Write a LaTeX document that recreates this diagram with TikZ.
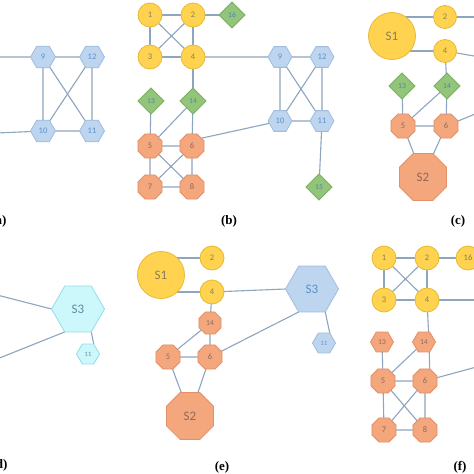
\documentclass[tikz,border=0pt]{standalone}
\usepackage{fontspec}
\setmainfont{Liberation Serif}
\newfontfamily\nodefont{Carlito}
\usetikzlibrary{shapes.geometric,backgrounds}
\definecolor{yfill}{HTML}{FFD34F}
\definecolor{yline}{HTML}{E8B935}
\definecolor{ytext}{HTML}{8C7C5A}
\definecolor{ofill}{HTML}{F4A67C}
\definecolor{oline}{HTML}{E39068}
\definecolor{otext}{HTML}{8E6A5A}
\definecolor{gfill}{HTML}{92C47A}
\definecolor{gline}{HTML}{7CB163}
\definecolor{gtext}{HTML}{4F86A8}
\definecolor{bfill}{HTML}{BDD5EF}
\definecolor{bline}{HTML}{9FBCDD}
\definecolor{btext}{HTML}{5E8FC8}
\definecolor{cfill}{HTML}{CCF7FB}
\definecolor{cline}{HTML}{94DDE8}
\definecolor{ctext}{HTML}{5B8FA5}
\definecolor{ecol}{HTML}{8DA5BF}
\begin{document}
\begin{tikzpicture}[x=1pt,y=-1pt,
  every node/.style={inner sep=0pt,outer sep=0pt},
  numfont/.style={font=\nodefont\fontsize{8.5}{9}\selectfont},
  smallfont/.style={font=\nodefont\fontsize{7.5}{8}\selectfont},
  bigfont/.style={font=\nodefont\fontsize{13}{14}\selectfont},
  ycirc/.style={circle,draw=yline,fill=yfill,line width=0.8pt,minimum size=24pt,text=ytext,numfont},
  ooct/.style={regular polygon,regular polygon sides=8,draw=oline,fill=ofill,line width=0.8pt,minimum size=26pt,text=otext,numfont},
  ohex/.style={regular polygon,regular polygon sides=6,draw=oline,fill=ofill,line width=0.8pt,minimum size=23pt,text=otext,smallfont},
  gdia/.style={diamond,aspect=1,draw=gline,fill=gfill,line width=0.8pt,minimum size=26pt,text=gtext,smallfont},
  bhex/.style={regular polygon,regular polygon sides=6,draw=bline,fill=bfill,line width=0.8pt,minimum size=25pt,text=btext,numfont},
  chex/.style={regular polygon,regular polygon sides=6,draw=cline,fill=cfill,line width=0.8pt,minimum size=23pt,text=ctext,numfont},
  conn/.style={draw=ecol,line width=1.1pt},
  panellabel/.style={font=\bfseries\fontsize{13}{14}\selectfont,text=black}
]
\useasboundingbox (0,0) rectangle (474,474);

% ---------- panel (a) ----------
\node[bhex] (a9) at (43,57) {9};
\node[bhex] (a12) at (92,57) {12};
\node[bhex] (a10) at (43,131) {10};
\node[bhex] (a11) at (92,131) {11};
\coordinate (aL1) at (-3,57);
\coordinate (aL2) at (-3,133);
\node[panellabel,anchor=east] (la) at (6.5,221) {(a)};

% ---------- panel (b) ----------
\node[ycirc] (b1) at (150,15) {1};
\node[ycirc] (b2) at (193,15) {2};
\node[ycirc] (b3) at (150,57) {3};
\node[ycirc] (b4) at (193,57) {4};
\node[gdia] (b16) at (232,15) {16};
\node[gdia] (b13) at (151,101) {13};
\node[gdia] (b14) at (193,101) {14};
\node[ooct] (b5) at (150,146) {5};
\node[ooct] (b6) at (192,146) {6};
\node[ooct] (b7) at (150,187) {7};
\node[ooct] (b8) at (192,187) {8};
\node[bhex,minimum size=24pt] (b9) at (280,57) {9};
\node[bhex,minimum size=24pt] (b12) at (322,57) {12};
\node[bhex,minimum size=24pt] (b10) at (280,121) {10};
\node[bhex,minimum size=24pt] (b11) at (322,121) {11};
\node[gdia] (b15) at (319,187) {15};
\node[panellabel] (lb) at (229,221) {(b)};

% ---------- panel (c) ----------
\node[ycirc,minimum size=47pt,bigfont] (cS1) at (392,36) {S1};
\node[ycirc,minimum size=23pt] (c2) at (445,17) {2};
\node[ycirc,minimum size=23pt] (c4) at (445,51) {4};
\node[gdia] (c13) at (402,86) {13};
\node[gdia] (c14) at (447,86) {14};
\node[ooct] (c5) at (403,126) {5};
\node[ooct] (c6) at (446,126) {6};
\node[ooct,minimum size=51pt,bigfont] (cS2) at (423,177) {S2};
\coordinate (cR1) at (480,17);
\coordinate (cR2) at (480,57);
\coordinate (cR3) at (480,112);
\node[panellabel] (lc) at (458,221) {(c)};

% ---------- panel (d) ----------
\node[chex,minimum size=53pt,bigfont] (dS3) at (78,309) {S3};
\node[chex,minimum size=23pt,font=\nodefont\fontsize{6.5}{7}\selectfont] (d11) at (88,354) {11};
\coordinate (dL1) at (-3,295);
\coordinate (dL2) at (-3,359);
\node[panellabel,anchor=east] (ld) at (7.5,465) {(d)};

% ---------- panel (e) ----------
\node[ycirc,minimum size=47pt,bigfont] (eS1) at (161,275) {S1};
\node[ycirc] (e2) at (212,258) {2};
\node[ycirc] (e4) at (212,292) {4};
\node[ooct,minimum size=24pt,smallfont] (e14) at (210,323) {14};
\node[ooct] (e5) at (168,357) {5};
\node[ooct] (e6) at (210,357) {6};
\node[ooct,minimum size=51pt,bigfont] (eS2) at (190,416) {S2};
\node[bhex,minimum size=53pt,bigfont] (eS3) at (312,289) {S3};
\node[bhex,minimum size=23pt,font=\nodefont\fontsize{6.5}{7}\selectfont] (e11) at (324,343) {11};
\node[panellabel] (le) at (222,467) {(e)};

% ---------- panel (f) ----------
\node[ycirc] (f1) at (384,258) {1};
\node[ycirc] (f2) at (427,258) {2};
\node[ycirc] (f16) at (468,258) {16};
\node[ycirc] (f3) at (384,300) {3};
\node[ycirc] (f4) at (427,300) {4};
\node[ohex] (f13) at (382,342) {13};
\node[ohex] (f14) at (424,342) {14};
\node[ooct] (f5) at (383,381) {5};
\node[ooct] (f6) at (425,381) {6};
\node[ooct] (f7) at (384,430) {7};
\node[ooct] (f8) at (425,430) {8};
\coordinate (fR1) at (480,300);
\coordinate (fR2) at (480,366);
\node[panellabel] (lf) at (460,467) {(f)};

\begin{pgfonlayer}{background}
\fill[white] (0,0) rectangle (474,474);
% (a)
\draw[conn] (aL1) -- (a9);
\draw[conn] (aL2) -- (a10);
\draw[conn] (a9) -- (a12);
\draw[conn] (a9) -- (a10);
\draw[conn] (a9) -- (a11);
\draw[conn] (a12) -- (a10);
\draw[conn] (a12) -- (a11);
\draw[conn] (a10) -- (a11);
% (b)
\draw[conn] (b1) -- (b2);
\draw[conn] (b1) -- (b3);
\draw[conn] (b1) -- (b4);
\draw[conn] (b2) -- (b3);
\draw[conn] (b2) -- (b4);
\draw[conn] (b3) -- (b4);
\draw[conn] (b2) -- (b16);
\draw[conn] (b4) -- (b9);
\draw[conn] (b4) -- (b14);
\draw[conn] (b14) -- (b5);
\draw[conn] (b14) -- (b6);
\draw[conn] (b13) -- (b5);
\draw[conn] (b5) -- (b6);
\draw[conn] (b5) -- (b7);
\draw[conn] (b5) -- (b8);
\draw[conn] (b6) -- (b7);
\draw[conn] (b6) -- (b8);
\draw[conn] (b7) -- (b8);
\draw[conn] (b6.40) -- (b10);
\draw[conn] (b9) -- (b12);
\draw[conn] (b9) -- (b10);
\draw[conn] (b9) -- (b11);
\draw[conn] (b12) -- (b10);
\draw[conn] (b12) -- (b11);
\draw[conn] (b10) -- (b11);
\draw[conn] (b11) -- (b15);
% (c)
\draw[conn] (c2) -- (c2 -| cS1);
\draw[conn] (c4) -- (c4 -| cS1);
\draw[conn] (c2) -- (cR1);
\draw[conn] (c4) -- (cR2);
\draw[conn] (c4) -- (c14);
\draw[conn] (c14) -- (c5);
\draw[conn] (c14) -- (c6);
\draw[conn] (c13) -- (c5);
\draw[conn] (c5) -- (c6);
\draw[conn] (c5) -- (cS2);
\draw[conn] (c6) -- (cS2);
\draw[conn] (c6) -- (cR3);
% (d)
\draw[conn] (dL1) -- (dS3.180);
\draw[conn] (dL2) -- (dS3.240);
\draw[conn] (dS3.300) -- (d11.60);
% (e)
\draw[conn] (e2) -- (e2 -| eS1);
\draw[conn] (e4) -- (e4 -| eS1);
\draw[conn] (e4) -- (eS3.180);
\draw[conn] (e4) -- (e14);
\draw[conn] (e14) -- (e5);
\draw[conn] (e14) -- (e6);
\draw[conn] (e5) -- (e6);
\draw[conn] (e5) -- (eS2);
\draw[conn] (e6) -- (eS2);
\draw[conn] (e6) -- (eS3.240);
\draw[conn] (eS3.300) -- (e11.60);
% (f)
\draw[conn] (f1) -- (f2);
\draw[conn] (f1) -- (f3);
\draw[conn] (f1) -- (f4);
\draw[conn] (f2) -- (f3);
\draw[conn] (f2) -- (f4);
\draw[conn] (f3) -- (f4);
\draw[conn] (f2) -- (f16);
\draw[conn] (f4) -- (fR1);
\draw[conn] (f4) -- ([xshift=5pt]f14.center);
\draw[conn] ([xshift=5pt]f14.center) -- ([xshift=5pt]f6.center);
\draw[conn] (f14) -- (f5);
\draw[conn] (f13) -- (f5);
\draw[conn] (f5) -- (f6);
\draw[conn] (f5) -- (f7);
\draw[conn] (f5) -- (f8);
\draw[conn] (f6) -- (f7);
\draw[conn] (f6) -- (f8);
\draw[conn] (f7) -- (f8);
\draw[conn] (f6) -- (fR2);
\end{pgfonlayer}
\end{tikzpicture}
\end{document}
